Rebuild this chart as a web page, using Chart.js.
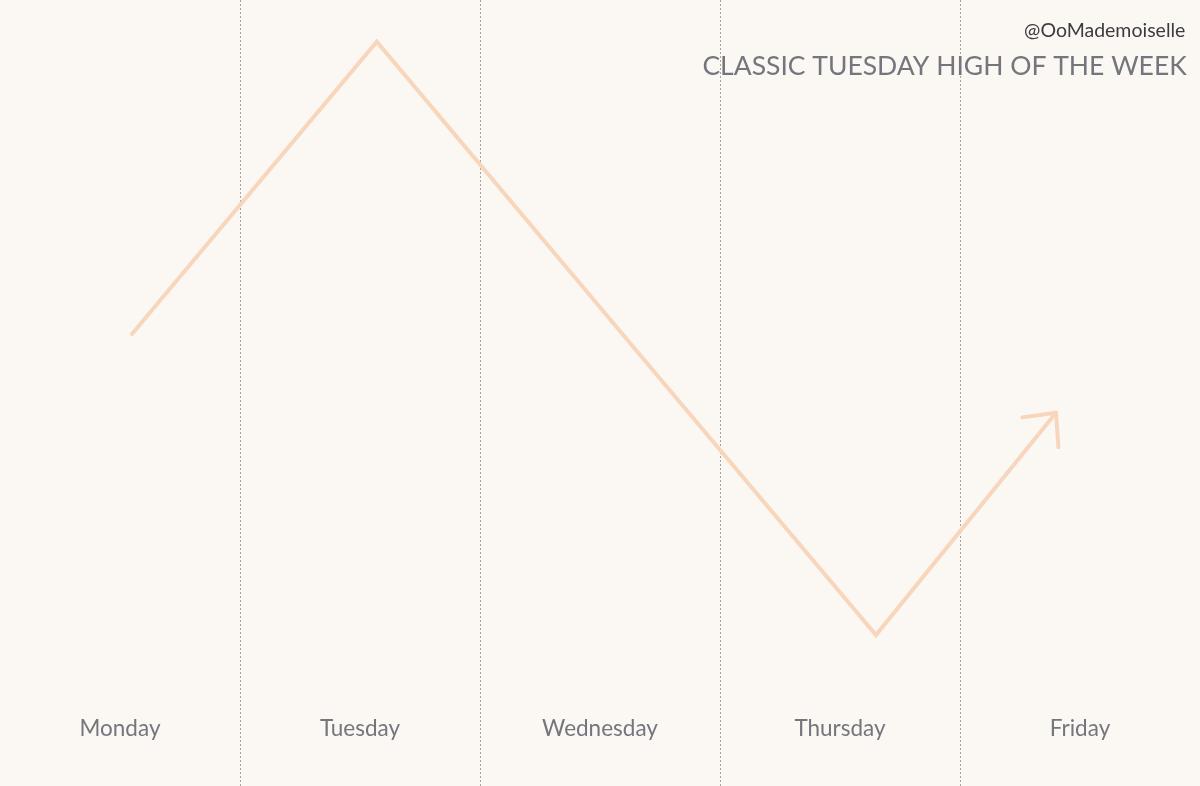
<!DOCTYPE html>
<html>
<head>
<meta charset="utf-8">
<title>Classic Tuesday high of the week</title>
<script src="https://cdn.jsdelivr.net/npm/chart.js@4/dist/chart.umd.min.js"></script>
<style>
    html, body { margin: 0; padding: 0; background: #fbf7f3; }
    #wrap { position: relative; width: 1200px; height: 786px; }
</style>
</head>
<body>
<div id="wrap"><canvas id="weekChart"></canvas></div>
<script>
/* =========================
   DATA
   ========================= */
const days = ['Monday', 'Tuesday', 'Wednesday', 'Thursday', 'Friday'];

// mood line, x in "day columns" (0..5), y in % of height
const moodX = [0.55, 1.57, 2.61, 3.65, 4.40];
const moodY = [57.5, 94.7, 56.9, 19.2, 47.5];

// little open arrow head at the end of Friday
const arrowX = [4.26, 4.40, 4.41];
const arrowY = [46.9, 47.5, 43.1];

const TITLE = 'CLASSIC TUESDAY HIGH OF THE WEEK';
const HANDLE = '@OoMademoiselle';

const COLORS = {
    line: '#f8d6bc',
    grid: '#aaa39d',
    text: '#75757e',
    handle: '#3b3b3f'
};

function toPoints(xs, ys) {
    return xs.map((x, i) => ({ x: x, y: ys[i] }));
}

/* =========================
   CHART
   ========================= */
const FONT = 'Lato, "Open Sans", sans-serif';

new Chart(document.getElementById('weekChart'), {
    type: 'line',
    data: {
        labels: days,
        datasets: [
            {
                label: 'Mood',
                data: toPoints(moodX, moodY),
                xAxisID: 'xl',
                borderColor: COLORS.line,
                borderWidth: 4,
                borderCapStyle: 'round',
                borderJoinStyle: 'miter',
                pointRadius: 0,
                tension: 0,
                fill: false
            },
            {
                label: 'Arrow',
                data: toPoints(arrowX, arrowY),
                xAxisID: 'xl',
                borderColor: COLORS.line,
                borderWidth: 4,
                borderCapStyle: 'round',
                borderJoinStyle: 'round',
                pointRadius: 0,
                tension: 0,
                fill: false
            }
        ]
    },
    options: {
        responsive: true,
        maintainAspectRatio: false,
        animation: false,
        layout: { padding: 0 },
        plugins: {
            legend: { display: false },
            tooltip: { enabled: false },
            // zero height boxes so the text sits over the plot like the original
            subtitle: {
                display: true,
                text: HANDLE + '\u2003',
                align: 'end',
                color: COLORS.handle,
                font: { family: FONT, size: 19.5 },
                padding: { top: 19.3, bottom: -42.7 }
            },
            title: {
                display: true,
                text: TITLE + '\u2002',
                align: 'end',
                color: COLORS.text,
                font: { family: FONT, size: 26.5, weight: 'normal' },
                padding: { top: 50.6, bottom: -82.4 }
            }
        },
        scales: {
            x: {
                type: 'category',
                position: 'bottom',
                offset: true,
                afterFit: (scale) => { scale.height = 0; },
                border: { display: false, dash: [2, 2] },
                grid: {
                    offset: true,
                    drawTicks: false,
                    lineWidth: 1,
                    color: (ctx) => (ctx.index === 0 || ctx.index === days.length) ? 'rgba(0,0,0,0)' : COLORS.grid
                },
                ticks: {
                    // mirrored labels are not clipped to the 0-height axis box
                    mirror: true,
                    color: COLORS.text,
                    font: { family: FONT, size: 22.5 },
                    padding: 43.5,
                    maxRotation: 0,
                    autoSkip: false
                }
            },
            xl: {
                type: 'linear',
                display: false,
                min: 0,
                max: days.length
            },
            y: {
                type: 'linear',
                display: false,
                min: 0,
                max: 100
            }
        }
    }
});
</script>
</body>
</html>
